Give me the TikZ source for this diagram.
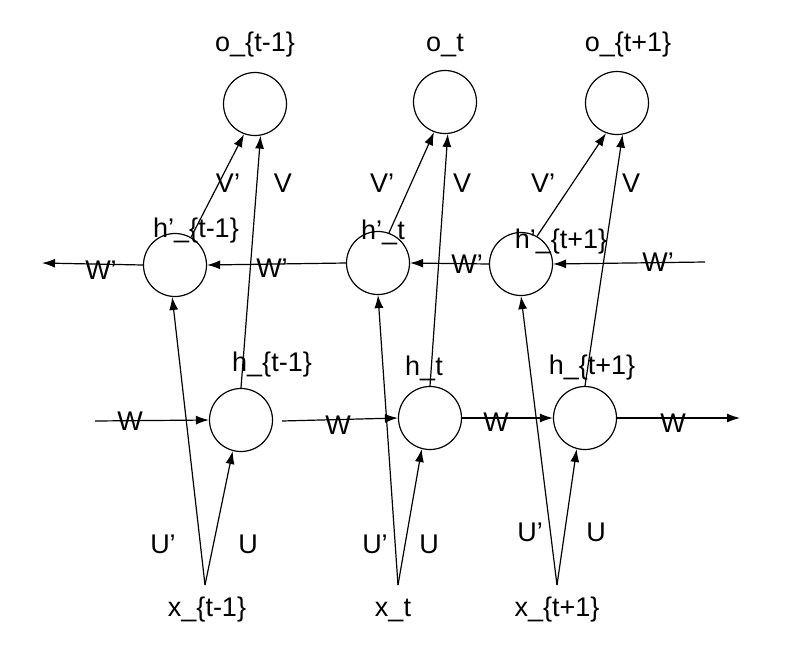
\documentclass[tikz,border=0pt]{standalone}
\usepackage{fontspec}
\setmainfont{Liberation Sans}
\usetikzlibrary{arrows.meta}
\begin{document}
\begin{tikzpicture}[x=1pt,y=-1pt,
  cell/.style={draw,line width=1.2pt,circle,minimum size=63pt,inner sep=0pt},
  lab/.style={font=\fontsize{27}{30}\selectfont,inner sep=0pt},
  arr/.style={line width=1.2pt,-{Latex[length=13pt,width=9pt]}}]
\useasboundingbox (0,0) rectangle (798,670);
% nodes
\node[cell] (o1) at (255,104) {};
\node[cell] (o2) at (445,102) {};
\node[cell] (o3) at (617,103) {};
\node[cell] (g1) at (175,265) {};
\node[cell] (g2) at (378,263) {};
\node[cell] (g3) at (521,264) {};
\node[cell] (h1) at (241,420) {};
\node[cell] (h2) at (430,418) {};
\node[cell] (h3) at (585,418) {};
% texts
\node[lab] (lo1) at (255,45) {o\_\{t-1\}};
\node[lab] (lo2) at (445,45) {o\_t};
\node[lab] (lo3) at (628,45) {o\_\{t+1\}};
\node[lab] (x1) at (207,610) {x\_\{t-1\}};
\node[lab] (x2) at (393,610) {x\_t};
\node[lab] (x3) at (557,610) {x\_\{t+1\}};
\node[lab] (lh1) at (272,365) {h\_\{t-1\}};
\node[lab] (lh2) at (424,368) {h\_t};
\node[lab] (lh3) at (592,368) {h\_\{t+1\}};
\node[lab] (lg1) at (196,231) {h’\_\{t-1\}};
\node[lab] (lg2) at (383,232) {h’\_t};
\node[lab] (lg3) at (561,242) {h’\_\{t+1\}};
% coordinates
\coordinate (xs1) at (205,585);
\coordinate (xs2) at (398,585);
\coordinate (xs3) at (557,585);
\coordinate (win) at (95,421);
\coordinate (wout) at (740,418);
\coordinate (vin) at (705,262);
\coordinate (vout) at (42,263);
% W
\draw[arr] (win) -- (h1.west);
\draw[arr] (282,421) -- (h2.west);
\draw[arr] (h2.east) -- (h3.west);
\draw[arr] (h3.east) -- (wout);
\node[lab] at (130,421) {W};
\node[lab] at (338,425) {W};
\node[lab] at (496,422) {W};
\node[lab] at (673,423) {W};
% W'
\draw[arr] (vin) -- (g3.east);
\draw[arr] (g3.west) -- (g2.east);
\draw[arr] (g2.west) -- (g1.east);
\draw[arr] (g1.west) -- (vout);
\node[lab] at (658,262) {W’};
\node[lab] at (467,264) {W’};
\node[lab] at (272,268) {W’};
\node[lab] at (101,270) {W’};
% U, U'
\draw[arr] (xs1) -- (h1.255);
\draw[arr] (xs1) -- (g1.265);
\draw[arr] (xs2) -- (h2.255);
\draw[arr] (xs2) -- (g2.270);
\draw[arr] (xs3) -- (h3.255);
\draw[arr] (xs3) -- (g3.270);
\node[lab] at (163,544) {U’};
\node[lab] at (248,544) {U};
\node[lab] at (375,544) {U’};
\node[lab] at (429,544) {U};
\node[lab] at (530,532) {U’};
\node[lab] at (596,532) {U};
% V, V'
\draw[arr] (h1.north) -- (o1.280);
\draw[arr] (g1.60) -- (o1.250);
\draw[arr] (h2.north) -- (o2.275);
\draw[arr] (g2.70) -- (o2.250);
\draw[arr] (h3.north) -- (o3.280);
\draw[arr] (g3.60) -- (o3.250);
\node[lab] at (228,183) {V’};
\node[lab] at (283,183) {V};
\node[lab] at (382,183) {V’};
\node[lab] at (462,183) {V};
\node[lab] at (543,183) {V’};
\node[lab] at (631,183) {V};
\end{tikzpicture}
\end{document}
